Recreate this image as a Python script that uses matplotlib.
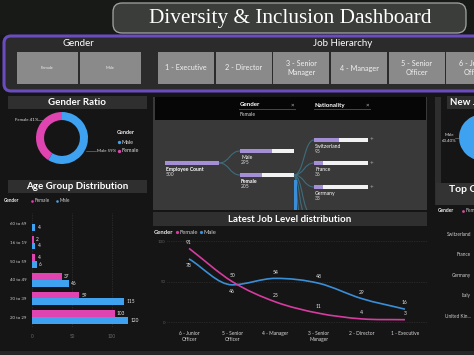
import matplotlib
matplotlib.use('Agg')
import matplotlib.pyplot as plt
from matplotlib.patches import FancyBboxPatch, Rectangle, PathPatch
from matplotlib.path import Path
import numpy as np

plt.rcParams['font.family'] = ['Lato', 'DejaVu Sans']

W, H = 474, 355
BG = '#151515'
PINK = '#e044b0'
BLUE = '#3fa2f0'
LPINK = '#d63c9f'
LBLUE = '#3a8ed8'
HDR = '#2f2f2f'

# ---------------- data ----------------
gender_labels = ['Male', 'Female']
gender_share = [59, 41]
gender_slicer = ['Female', 'Male']
job_tiles = ['1 - Executive', '2 - Director', '3 - Senior\nManager',
             '4 - Manager', '5 - Senior\nOfficer', '6 - Junior\nOfficer']

age_groups = ['60 to 69', '16 to 19', '50 to 59', '40 to 49', '30 to 39', '20 to 29']
age_female = [0, 2, 4, 37, 59, 103]
age_male = [4, 4, 6, 46, 115, 120]
age_ticks = [0, 50, 100]

tree_root_label = 'Employee Count'
tree_root_count = 500
tree_gender = ['Male', 'Female']
tree_gender_counts = [295, 205]
tree_countries = ['Switzerland', 'France', 'Germany']
tree_country_counts = [95, 36, 33]

job_levels = ['6 - Junior\nOfficer', '5 - Senior\nOfficer', '4 - Manager',
              '3 - Senior\nManager', '2 - Director', '1 - Executive']
job_female = [91, 50, 25, 11, 4, 3]
job_male = [78, 46, 54, 48, 29, 16]
job_ticks = [0, 50, 100]

new_labels = ['Male', 'Female']
new_share = [60.40, 39.60]
top_countries = ['Switzerland', 'France', 'Germany', 'Italy', 'United Kin...']

# ---------------- figure ----------------
fig = plt.figure(figsize=(W / 100, H / 100), dpi=100)
fig.patch.set_facecolor(BG)


def rect(x0, y0, x1, y1):
    return [x0 / W, 1 - y1 / H, (x1 - x0) / W, (y1 - y0) / H]


bg = fig.add_axes([0, 0, 1, 1])
bg.set_xlim(0, W)
bg.set_ylim(H, 0)
bg.axis('off')
bg.set_zorder(0)


def box(x0, y0, x1, y1, fc, **kw):
    bg.add_patch(Rectangle((x0, y0), x1 - x0, y1 - y0, fc=fc, ec='none', **kw))


def header(x0, y0, x1, y1, text, tx=None, ty=None, ha='center', fc=HDR, size=7):
    box(x0, y0, x1, y1, fc)
    bg.text((x0 + x1) / 2 if tx is None else tx, (y0 + y1) / 2 if ty is None else ty,
            text, ha=ha, va='center', color='white', fontsize=size, fontweight='bold')


def legend_row(x, y, items, size=3.6, gap=2.5):
    bg.text(x, y, 'Gender', color='#e8e8e8', fontsize=size, fontweight='bold', va='center')
    for (lx, lab, col) in items:
        bg.plot([lx], [y], 'o', ms=size * 0.55, color=col, mec='none')
        bg.text(lx + gap, y, lab, color='#cfcfcf', fontsize=size, va='center')


# faint glow behind title area
box(0, 0, 474, 35, '#181a17')

# title
bg.add_patch(FancyBboxPatch((113, 3), 353, 30, boxstyle='round,pad=0,rounding_size=9',
                            fc='#3a3d3a', ec='#a3a8a3', lw=0.9))
bg.text(290, 18.5, 'Diversity & Inclusion Dashboard', ha='center', va='center',
        color='white', fontsize=15.3, family='Liberation Serif')

# slicer panel
bg.add_patch(FancyBboxPatch((4, 36), 500, 55, boxstyle='round,pad=0,rounding_size=7',
                            fc='#2b2b2b', ec='#6a4cc0', lw=2.2))
bg.text(78, 44, 'Gender', ha='center', va='center', color='white', fontsize=7)
bg.text(343, 44, 'Job Hierarchy', ha='center', va='center', color='white', fontsize=7)
for i, lab in enumerate(gender_slicer):
    x0 = 17 + i * 63
    box(x0, 52, x0 + 61, 84, '#8a8a8a')
    bg.text(x0 + 30.5, 68, lab, ha='center', va='center', color='#eeeeee', fontsize=3)
for i, lab in enumerate(job_tiles):
    x0 = 158 + i * 57.7
    box(x0, 52, x0 + 56, 84, '#8a8a8a')
    bg.text(x0 + 28, 68, lab, ha='center', va='center', color='#f2f2f2', fontsize=5.2,
            linespacing=1.25)

# ---------------- Gender ratio ----------------
header(8, 96, 147, 109, 'Gender Ratio')
axd = fig.add_axes(rect(36, 112, 88, 164))
axd.pie(gender_share, colors=[BLUE, PINK], startangle=90, counterclock=False,
        wedgeprops=dict(width=0.31, edgecolor='none'))
axd.set_xlim(-1, 1)
axd.set_ylim(-1, 1)
axd.set_zorder(2)
bg.text(15, 120, f'{gender_labels[1]} {gender_share[1]}%', color='#dddddd', fontsize=3.2, va='center')
bg.plot([38, 45], [120, 120], color='#888888', lw=0.4)
bg.text(97, 151, f'{gender_labels[0]} {gender_share[0]}%', color='#dddddd', fontsize=3.2, va='center')
bg.plot([86, 96], [151, 151], color='#888888', lw=0.4)
bg.text(117, 133, 'Gender', color='#eeeeee', fontsize=3.9, fontweight='bold', va='center')
bg.plot([119.5], [142], 'o', ms=2.4, color=BLUE, mec='none')
bg.text(122, 142, gender_labels[0], color='#dddddd', fontsize=4, va='center')
bg.plot([119.5], [151], 'o', ms=2.4, color=PINK, mec='none')
bg.text(122, 151, gender_labels[1], color='#dddddd', fontsize=4, va='center')

# ---------------- Age group ----------------
header(8, 180, 147, 193, 'Age Group Distribution')
legend_row(4, 201, [(32, 'Female', PINK), (57, 'Male', BLUE)], size=3.4, gap=2.5)
axa = fig.add_axes(rect(32, 213, 145, 328))
axa.set_facecolor('none')
ya = np.arange(len(age_groups))
bh = 0.36
axa.barh(ya - bh / 2, age_female, height=bh, color=PINK, edgecolor='none')
axa.barh(ya + bh / 2, age_male, height=bh, color=BLUE, edgecolor='none')
for y, f, m in zip(ya, age_female, age_male):
    if f > 0:
        axa.text(f + 3, y - bh / 2, str(f), color='#e8e8e8', fontsize=3.4, va='center')
    if m > 0:
        axa.text(m + 3, y + bh / 2, str(m), color='#e8e8e8', fontsize=3.4, va='center')
axa.set_xlim(0, 141)
axa.set_ylim(5.59, -0.59)
axa.set_xticks(age_ticks)
axa.set_xticklabels([str(t) for t in age_ticks])
axa.set_yticks(ya)
axa.set_yticklabels(age_groups)
axa.tick_params(axis='x', length=0, colors='#6a6a6a', labelsize=3.3, pad=4)
axa.tick_params(axis='y', length=0, colors='#cfcfcf', labelsize=3.2, pad=4)
for s in axa.spines.values():
    s.set_visible(False)
axa.grid(axis='x', color='#3c3c3c', lw=0.5, ls=(0, (1, 1.5)))
axa.set_axisbelow(True)

# ---------------- Decomposition tree ----------------
box(153, 97, 427, 210, '#393939')
box(155, 97, 426, 120, '#060606')
bg.text(240, 105, 'Gender', color='white', fontsize=4.4, fontweight='bold', va='center')
bg.text(291, 105, '×', color='#bbbbbb', fontsize=4.4, va='center')
bg.plot([239, 295], [109.3, 109.3], color='#2c4a88', lw=0.7)
bg.text(240, 114, 'Female', color='#dddddd', fontsize=3.6, va='center')
bg.text(315, 105, 'Nationality', color='white', fontsize=4.4, fontweight='bold', va='center')
bg.text(366, 105, '×', color='#bbbbbb', fontsize=4.4, va='center')
bg.plot([314, 370], [109.3, 109.3], color='#2c4a88', lw=0.7)
box(435, 97, 441, 205, '#2e2e2e')

axt = fig.add_axes(rect(153, 97, 427, 210))
axt.set_xlim(153, 427)
axt.set_ylim(210, 97)
axt.axis('off')
axt.set_zorder(2)
BW = 54
LAV = '#a48fd6'


def curve(p0, p1, color='#3e6c7c', lw=0.8):
    mx = (p0[0] + p1[0]) / 2
    path = Path([p0, (mx, p0[1]), (mx, p1[1]), p1],
                [Path.MOVETO, Path.CURVE4, Path.CURVE4, Path.CURVE4])
    axt.add_patch(PathPatch(path, fill=False, ec=color, lw=lw))


def node(x0, y, count, total, title, bold=False):
    axt.barh([y], [BW], left=x0, height=4, color='#f2f2f2', edgecolor='none')
    axt.barh([y], [BW * count / total], left=x0, height=4, color=LAV, edgecolor='none')
    axt.text(x0 + 1, y + 6.5, title, color='white', fontsize=3.7,
             fontweight='bold' if bold else 'normal', va='center')
    axt.text(x0 + 1, y + 11.5, str(count), color='#d8d8d8', fontsize=3.6, va='center')


root_x, root_y = 165, 163
g_x, g_y = 240, [151, 175]
c_x, c_y = 314, [140, 163, 187]
node(root_x, root_y, tree_root_count, tree_root_count, tree_root_label, bold=True)
for gy, lab, cnt in zip(g_y, tree_gender, tree_gender_counts):
    curve((root_x + BW, root_y), (g_x, gy))
    node(g_x, gy, cnt, tree_root_count, lab, bold=(lab == 'Female'))
for cy, lab, cnt in zip(c_y, tree_countries, tree_country_counts):
    curve((g_x + BW, g_y[1]), (c_x, cy))
    node(c_x, cy, cnt, tree_gender_counts[1], lab)
    axt.text(c_x + BW + 4, cy, '+', color='#aaaaaa', fontsize=4.5, va='center', ha='center')
for ex in [300, 305, 311]:
    curve((g_x + BW, g_y[1]), (ex, 214))
axt.add_patch(Rectangle((294, 180), 2.6, 32, fc=LBLUE, ec='none'))

# ---------------- Line chart ----------------
header(153, 212, 427, 226, 'Latest Job Level distribution')
legend_row(154, 232, [(177, 'Female', LPINK), (201, 'Male', LBLUE)], size=4.2, gap=2.8)
axl = fig.add_axes(rect(167, 237, 427, 327))
axl.set_facecolor('none')
axl.set_xlim(-0.51, 5.51)
axl.set_ylim(-6, 105)
xl = np.arange(len(job_levels))


def smooth_path(xs, ys):
    xs = np.asarray(xs, float)
    ys = np.asarray(ys, float)
    n = len(xs)
    d = np.diff(ys) / np.diff(xs)
    m = np.zeros(n)
    m[0], m[-1] = d[0], d[-1]
    for i in range(1, n - 1):
        m[i] = 0.0 if d[i - 1] * d[i] <= 0 else (d[i - 1] + d[i]) / 2
    verts = [(xs[0], ys[0])]
    codes = [Path.MOVETO]
    for i in range(n - 1):
        h = xs[i + 1] - xs[i]
        verts += [(xs[i] + h / 3, ys[i] + m[i] * h / 3),
                  (xs[i + 1] - h / 3, ys[i + 1] - m[i + 1] * h / 3),
                  (xs[i + 1], ys[i + 1])]
        codes += [Path.CURVE4] * 3
    return Path(verts, codes)


axl.add_patch(PathPatch(smooth_path(xl, job_male), fill=False, ec=LBLUE, lw=1.2))
axl.add_patch(PathPatch(smooth_path(xl, job_female), fill=False, ec=LPINK, lw=1.2))
for i, (f, m) in enumerate(zip(job_female, job_male)):
    axl.annotate(str(f), (i, f), xytext=(0, 4.5), textcoords='offset points',
                 ha='center', va='center', color='#e8e8e8', fontsize=3.6)
    off = -4.5 if m < f else 4.5
    axl.annotate(str(m), (i, m), xytext=(0, off), textcoords='offset points',
                 ha='center', va='center', color='#e8e8e8', fontsize=3.6)
axl.set_xticks(xl)
axl.set_xticklabels(job_levels)
axl.set_yticks(job_ticks)
axl.set_yticklabels([str(t) for t in job_ticks])
axl.tick_params(axis='x', length=0, colors='#d8d8d8', labelsize=3.5, pad=3)
axl.tick_params(axis='y', length=0, colors='#5c5c5c', labelsize=3.2, pad=1)
for s in axl.spines.values():
    s.set_visible(False)
axl.grid(axis='y', color='#3a3a3a', lw=0.5, ls=(0, (1, 1.5)))
axl.set_axisbelow(True)

# ---------------- Right column (partially visible, as in the reference) ----------------
header(447, 96, 480, 109, 'New Joiners', tx=450, ha='left')
axn = fig.add_axes(rect(459, 114, 505, 161))
axn.pie(new_share, colors=[BLUE, PINK], startangle=90, counterclock=True,
        wedgeprops=dict(edgecolor='none'))
axn.set_xlim(-1, 1)
axn.set_ylim(-1, 1)
bg.text(449, 135, new_labels[0], color='#dddddd', fontsize=3.2, va='center', ha='center')
bg.text(449, 140.5, f'{new_share[0]:.2f}%', color='#dddddd', fontsize=3.2, va='center', ha='center')
bg.plot([455, 460], [137.5, 137.5], color='#888888', lw=0.4)

header(436, 183, 480, 205, 'Top Countries', tx=449, ty=190, ha='left', fc='#333333', size=7.5)
bg.text(438, 211, 'Gender', color='#e8e8e8', fontsize=3.6, fontweight='bold', va='center')
bg.plot([463.5], [211], 'o', ms=2.0, color=PINK, mec='none')
bg.text(466, 211, 'Female', color='#cfcfcf', fontsize=3.6, va='center')
for i, c in enumerate(top_countries):
    bg.text(471, 234 + i * 20.6, c, color='#cfcfcf', fontsize=3.4, va='center', ha='right')

box(0, 351, 474, 355, '#262626')

fig.savefig('out.png', dpi=100, facecolor=BG)
